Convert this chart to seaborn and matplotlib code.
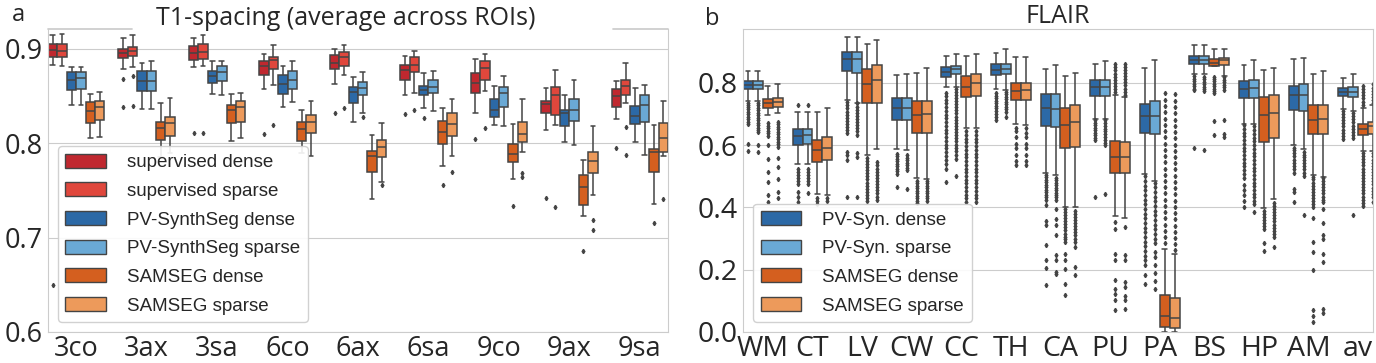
import numpy as np
import pandas as pd
import seaborn as sns
import matplotlib.pyplot as plt
from matplotlib.patches import Patch
from matplotlib.ticker import FormatStrFormatter

# ---------------- panel a: T1 spacing ----------------
t1_cats = ["3co", "3ax", "3sa", "6co", "6ax", "6sa", "9co", "9ax", "9sa"]
t1_groups = ["supervised dense", "supervised sparse", "PV-SynthSeg dense",
             "PV-SynthSeg sparse", "SAMSEG dense", "SAMSEG sparse"]
t1_colors = ["#c0282f", "#e0473c", "#2c69a6", "#6aa9d5", "#d45f1f", "#ed9a5b"]

# per category: lower whisker, Q1, median, Q3, upper whisker
sup_dense = [[0.883, 0.891, 0.899, 0.905, 0.915], [0.879, 0.890, 0.896, 0.900, 0.912],
             [0.881, 0.888, 0.896, 0.903, 0.912], [0.857, 0.872, 0.882, 0.887, 0.895],
             [0.863, 0.879, 0.885, 0.894, 0.900], [0.851, 0.867, 0.878, 0.883, 0.892],
             [0.832, 0.853, 0.864, 0.874, 0.889], [0.814, 0.832, 0.842, 0.845, 0.858],
             [0.826, 0.838, 0.850, 0.857, 0.866]]
sup_sparse = [[0.882, 0.891, 0.898, 0.905, 0.916], [0.881, 0.892, 0.898, 0.902, 0.915],
              [0.882, 0.889, 0.897, 0.905, 0.915], [0.862, 0.879, 0.888, 0.891, 0.904],
              [0.872, 0.882, 0.891, 0.897, 0.904], [0.853, 0.875, 0.883, 0.891, 0.898],
              [0.855, 0.867, 0.880, 0.887, 0.895], [0.819, 0.830, 0.851, 0.860, 0.878],
              [0.843, 0.851, 0.861, 0.867, 0.885]]
pv_dense = [[0.840, 0.856, 0.867, 0.875, 0.881], [0.836, 0.855, 0.866, 0.877, 0.885],
            [0.852, 0.864, 0.871, 0.877, 0.887], [0.838, 0.852, 0.863, 0.872, 0.882],
            [0.822, 0.843, 0.854, 0.860, 0.870], [0.837, 0.851, 0.856, 0.861, 0.874],
            [0.819, 0.828, 0.835, 0.847, 0.861], [0.801, 0.818, 0.832, 0.835, 0.851],
            [0.801, 0.820, 0.829, 0.839, 0.858]]
pv_sparse = [[0.841, 0.857, 0.869, 0.875, 0.881], [0.836, 0.855, 0.866, 0.877, 0.887],
             [0.851, 0.866, 0.876, 0.882, 0.887], [0.844, 0.857, 0.867, 0.877, 0.887],
             [0.832, 0.851, 0.859, 0.865, 0.875], [0.834, 0.853, 0.860, 0.867, 0.877],
             [0.818, 0.838, 0.853, 0.860, 0.871], [0.798, 0.824, 0.835, 0.847, 0.867],
             [0.788, 0.822, 0.841, 0.851, 0.862]]
sam_dense = [[0.806, 0.821, 0.834, 0.844, 0.852], [0.785, 0.803, 0.816, 0.823, 0.843],
             [0.802, 0.821, 0.835, 0.840, 0.852], [0.790, 0.802, 0.815, 0.822, 0.835],
             [0.741, 0.770, 0.786, 0.792, 0.809], [0.776, 0.799, 0.812, 0.824, 0.837],
             [0.762, 0.780, 0.789, 0.799, 0.820], [0.723, 0.735, 0.754, 0.766, 0.782],
             [0.736, 0.769, 0.791, 0.794, 0.819]]
sam_sparse = [[0.807, 0.825, 0.838, 0.845, 0.854], [0.790, 0.808, 0.821, 0.828, 0.848],
              [0.806, 0.823, 0.838, 0.845, 0.853], [0.786, 0.811, 0.822, 0.830, 0.845],
              [0.759, 0.785, 0.796, 0.803, 0.821], [0.786, 0.808, 0.820, 0.832, 0.847],
              [0.791, 0.801, 0.810, 0.822, 0.847], [0.745, 0.768, 0.781, 0.791, 0.818],
              [0.786, 0.791, 0.806, 0.821, 0.845]]

# outlier points per category
sup_dense_out = [[0.650], [0.868, 0.838], [0.811], [0.810], [0.832], [0.831], [0.805], [0.742], [0.795]]
sup_sparse_out = [[], [0.871, 0.839], [0.811], [0.819], [0.837], [0.835], [0.816], [0.732], [0.817, 0.788]]
pv_dense_out = [[], [], [], [], [], [0.827], [], [], []]
pv_sparse_out = [[], [], [], [], [0.828], [], [], [], []]
sam_dense_out = [[], [], [], [], [], [0.756], [0.733], [0.686], [0.716]]
sam_sparse_out = [[], [], [], [], [0.756], [0.769], [0.768, 0.764], [0.719, 0.708], [0.741]]

# ---------------- panel b: FLAIR ----------------
flair_cats = ["WM", "CT", "LV", "CW", "CC", "TH", "CA", "PU", "PA", "BS", "HP", "AM", "av"]
flair_groups = ["PV-Syn. dense", "PV-Syn. sparse", "SAMSEG dense", "SAMSEG sparse"]
flair_colors = ["#2c69a6", "#6aa9d5", "#d45f1f", "#ed9a5b"]

fl_pv_dense = [[0.741, 0.779, 0.793, 0.805, 0.838], [0.541, 0.602, 0.629, 0.651, 0.705],
               [0.745, 0.838, 0.876, 0.900, 0.948], [0.587, 0.680, 0.718, 0.750, 0.825],
               [0.787, 0.819, 0.835, 0.851, 0.886], [0.779, 0.825, 0.843, 0.862, 0.896],
               [0.512, 0.662, 0.718, 0.763, 0.844], [0.683, 0.758, 0.787, 0.809, 0.862],
               [0.509, 0.640, 0.694, 0.732, 0.848], [0.830, 0.862, 0.875, 0.887, 0.923],
               [0.668, 0.750, 0.782, 0.805, 0.859], [0.600, 0.712, 0.760, 0.790, 0.878],
               [0.717, 0.757, 0.771, 0.784, 0.817]]
fl_pv_sparse = [[0.741, 0.779, 0.793, 0.805, 0.838], [0.541, 0.605, 0.634, 0.653, 0.705],
                [0.737, 0.833, 0.876, 0.898, 0.948], [0.584, 0.680, 0.718, 0.752, 0.827],
                [0.787, 0.827, 0.846, 0.855, 0.894], [0.778, 0.828, 0.846, 0.862, 0.910],
                [0.503, 0.657, 0.715, 0.763, 0.857], [0.683, 0.758, 0.787, 0.809, 0.870],
                [0.484, 0.637, 0.694, 0.741, 0.873], [0.827, 0.862, 0.875, 0.887, 0.923],
                [0.667, 0.750, 0.785, 0.809, 0.875], [0.587, 0.709, 0.760, 0.795, 0.881],
                [0.709, 0.755, 0.771, 0.786, 0.830]]
fl_sam_dense = [[0.696, 0.718, 0.734, 0.748, 0.790], [0.442, 0.546, 0.584, 0.616, 0.705],
                [0.568, 0.734, 0.795, 0.846, 0.926], [0.493, 0.640, 0.698, 0.741, 0.832],
                [0.655, 0.755, 0.787, 0.823, 0.886], [0.667, 0.744, 0.774, 0.800, 0.883],
                [0.402, 0.591, 0.666, 0.720, 0.823], [0.373, 0.511, 0.562, 0.613, 0.760],
                [0.000, 0.016, 0.051, 0.118, 0.268], [0.820, 0.855, 0.865, 0.878, 0.908],
                [0.398, 0.610, 0.698, 0.755, 0.841], [0.503, 0.637, 0.680, 0.728, 0.830],
                [0.582, 0.634, 0.653, 0.669, 0.720]]
fl_sam_sparse = [[0.702, 0.723, 0.739, 0.752, 0.795], [0.440, 0.552, 0.591, 0.627, 0.720],
                 [0.589, 0.734, 0.809, 0.857, 0.937], [0.490, 0.640, 0.699, 0.741, 0.849],
                 [0.655, 0.758, 0.801, 0.830, 0.894], [0.664, 0.744, 0.777, 0.800, 0.883],
                 [0.402, 0.594, 0.673, 0.728, 0.833], [0.367, 0.512, 0.562, 0.610, 0.755],
                 [0.000, 0.013, 0.045, 0.109, 0.252], [0.823, 0.857, 0.873, 0.880, 0.910],
                 [0.426, 0.623, 0.702, 0.760, 0.848], [0.498, 0.637, 0.683, 0.730, 0.838],
                 [0.581, 0.637, 0.662, 0.675, 0.730]]

fl_pv_dense_out = [
    [0.736, 0.730, 0.722, 0.715, 0.708, 0.700, 0.692, 0.684, 0.676, 0.668, 0.605, 0.580],
    [0.728, 0.525, 0.515, 0.505, 0.495, 0.485, 0.475, 0.450, 0.434, 0.418],
    [0.738, 0.728, 0.718, 0.708, 0.698, 0.688, 0.678, 0.668, 0.658, 0.648, 0.638, 0.578, 0.568, 0.552, 0.434],
    [0.572, 0.564, 0.556, 0.548, 0.540, 0.532, 0.524, 0.516, 0.508, 0.466],
    [0.768, 0.758, 0.746, 0.734, 0.722, 0.710, 0.698, 0.686, 0.674, 0.662, 0.650, 0.638, 0.626,
     0.614, 0.602, 0.590, 0.578, 0.566, 0.554, 0.540, 0.525, 0.482],
    [0.766, 0.758, 0.750, 0.742, 0.734, 0.726, 0.718, 0.710, 0.700, 0.690, 0.680],
    [0.505, 0.497, 0.489, 0.481, 0.473, 0.465, 0.457, 0.449, 0.441, 0.433, 0.425, 0.409,
     0.357, 0.343, 0.278, 0.230, 0.206, 0.152],
    [0.680, 0.672, 0.664, 0.656, 0.648, 0.640, 0.632, 0.624, 0.616, 0.434],
    [0.500, 0.485, 0.470, 0.455, 0.440, 0.425, 0.410, 0.395, 0.380, 0.365, 0.350, 0.335, 0.320,
     0.305, 0.290, 0.275, 0.260, 0.245, 0.230, 0.214, 0.184, 0.155],
    [0.822, 0.814, 0.806, 0.798, 0.790, 0.782, 0.776, 0.591],
    [0.664, 0.652, 0.640, 0.628, 0.616, 0.604, 0.592, 0.580, 0.568, 0.556, 0.544, 0.532, 0.520,
     0.508, 0.495, 0.471, 0.455, 0.440, 0.420, 0.402],
    [0.592, 0.584, 0.574, 0.564, 0.554, 0.544, 0.534, 0.522, 0.510, 0.458, 0.450, 0.418],
    [0.710, 0.700, 0.690, 0.680, 0.670, 0.660, 0.650, 0.640, 0.630, 0.621]]
fl_pv_sparse_out = [
    [0.736, 0.728, 0.720, 0.712, 0.704, 0.696, 0.688, 0.680, 0.672, 0.664, 0.656, 0.648, 0.642, 0.600, 0.578],
    [0.728, 0.525, 0.515, 0.505, 0.495, 0.485, 0.475, 0.445],
    [0.734, 0.724, 0.714, 0.704, 0.694, 0.684, 0.674, 0.664, 0.654, 0.644, 0.634, 0.574, 0.562, 0.434],
    [0.568, 0.560, 0.552, 0.544, 0.536, 0.528, 0.520, 0.458],
    [0.782, 0.772, 0.762, 0.752, 0.742, 0.732, 0.722, 0.712, 0.702, 0.692, 0.682, 0.672, 0.662,
     0.652, 0.642, 0.632, 0.622, 0.612, 0.602, 0.592, 0.582, 0.570, 0.555, 0.500],
    [0.772, 0.764, 0.756, 0.748, 0.740, 0.732, 0.724, 0.716, 0.708, 0.690],
    [0.495, 0.488, 0.480, 0.472, 0.464, 0.456, 0.448, 0.440, 0.432, 0.424, 0.395, 0.362, 0.343,
     0.313, 0.246, 0.230, 0.192, 0.187],
    [0.680, 0.671, 0.662, 0.653, 0.644, 0.635, 0.626, 0.617, 0.608, 0.599, 0.444],
    [0.478, 0.465, 0.450, 0.435, 0.420, 0.405, 0.390, 0.375, 0.360, 0.345, 0.330, 0.315, 0.300,
     0.285, 0.257, 0.240, 0.215, 0.190, 0.165, 0.139],
    [0.820, 0.812, 0.804, 0.796, 0.788, 0.780, 0.774, 0.584],
    [0.660, 0.648, 0.636, 0.624, 0.612, 0.600, 0.588, 0.576, 0.564, 0.552, 0.540, 0.528, 0.516,
     0.504, 0.492, 0.480, 0.468, 0.456, 0.444, 0.432, 0.420, 0.410, 0.386],
    [0.578, 0.570, 0.562, 0.552, 0.542, 0.532, 0.522, 0.512, 0.500, 0.377],
    [0.703, 0.693, 0.683, 0.673, 0.663, 0.653, 0.643, 0.633, 0.622, 0.375]]
fl_sam_dense_out = [
    [0.670, 0.662, 0.654, 0.646, 0.638, 0.630, 0.600, 0.557, 0.514, 0.482, 0.439, 0.418],
    [0.430, 0.420, 0.410],
    [0.560, 0.550, 0.540, 0.530, 0.520, 0.510, 0.500, 0.490, 0.480, 0.470, 0.460, 0.450, 0.440, 0.430, 0.420],
    [0.486, 0.478, 0.470, 0.462, 0.454, 0.446, 0.438, 0.430, 0.422, 0.414],
    [0.645, 0.633, 0.621, 0.609, 0.597, 0.585, 0.573, 0.561, 0.549, 0.537, 0.525, 0.513, 0.501,
     0.489, 0.477, 0.465, 0.453, 0.441, 0.429, 0.418],
    [0.655, 0.645, 0.625, 0.605, 0.590, 0.570, 0.550, 0.535],
    [0.395, 0.386, 0.376, 0.366, 0.356, 0.346, 0.336, 0.326, 0.316, 0.306, 0.298, 0.289, 0.252,
     0.230, 0.201, 0.155, 0.120],
    [0.860, 0.850, 0.840, 0.830, 0.820, 0.810, 0.800, 0.790, 0.780, 0.770, 0.353, 0.330, 0.252,
     0.230, 0.168, 0.139, 0.123, 0.102, 0.070],
    [0.766, 0.745, 0.725, 0.705, 0.685, 0.665, 0.645, 0.625, 0.605, 0.585, 0.565, 0.545, 0.525,
     0.505, 0.485, 0.465, 0.445, 0.425, 0.405, 0.385, 0.365, 0.345, 0.325, 0.305, 0.285],
    [0.814, 0.806, 0.798, 0.790, 0.782, 0.774, 0.766, 0.677, 0.632],
    [0.390, 0.380, 0.370, 0.360, 0.350, 0.340, 0.330, 0.287, 0.259],
    [0.498, 0.490, 0.480, 0.470, 0.460, 0.450, 0.440, 0.430, 0.420, 0.410, 0.402, 0.366, 0.289,
     0.257, 0.198, 0.070, 0.050, 0.032],
    [0.790, 0.780, 0.770, 0.760, 0.750, 0.740, 0.730, 0.575, 0.565, 0.555, 0.545, 0.535, 0.525,
     0.515, 0.505, 0.495, 0.485, 0.475, 0.465, 0.455, 0.445, 0.435, 0.425, 0.415, 0.405]]
fl_sam_sparse_out = [
    [0.675, 0.667, 0.659, 0.651, 0.643, 0.635, 0.627, 0.619, 0.611, 0.603, 0.595, 0.560, 0.530,
     0.490, 0.450, 0.430],
    [0.430, 0.420],
    [0.545, 0.535, 0.525, 0.515, 0.505, 0.495, 0.485, 0.475, 0.465, 0.455, 0.445, 0.435, 0.425],
    [0.485, 0.477, 0.469, 0.461, 0.453, 0.445, 0.437, 0.429, 0.421],
    [0.645, 0.633, 0.621, 0.609, 0.597, 0.585, 0.573, 0.561, 0.549, 0.537, 0.525, 0.513, 0.501,
     0.489, 0.477, 0.465, 0.453, 0.441, 0.429, 0.418],
    [0.655, 0.640, 0.625, 0.605, 0.590, 0.570, 0.550, 0.535],
    [0.390, 0.380, 0.370, 0.360, 0.350, 0.340, 0.330, 0.320, 0.310, 0.300, 0.290, 0.273, 0.209, 0.184],
    [0.862, 0.852, 0.842, 0.832, 0.822, 0.812, 0.802, 0.792, 0.782, 0.772, 0.762, 0.337, 0.246,
     0.230, 0.160, 0.145, 0.116, 0.102, 0.075],
    [0.763, 0.742, 0.722, 0.702, 0.682, 0.662, 0.642, 0.622, 0.602, 0.582, 0.562, 0.542, 0.522,
     0.502, 0.482, 0.462, 0.442, 0.422, 0.402, 0.382, 0.362, 0.342, 0.322, 0.302, 0.282, 0.262],
    [0.818, 0.810, 0.802, 0.794, 0.786, 0.778, 0.682, 0.637, 0.627],
    [0.415, 0.405, 0.395, 0.385, 0.375, 0.365, 0.355, 0.345, 0.335, 0.325, 0.315, 0.305, 0.273],
    [0.495, 0.485, 0.475, 0.465, 0.455, 0.445, 0.435, 0.425, 0.418, 0.395, 0.350, 0.310, 0.300,
     0.250, 0.225, 0.073, 0.062],
    [0.795, 0.785, 0.775, 0.765, 0.755, 0.745, 0.735, 0.574, 0.564, 0.554, 0.544, 0.534, 0.524,
     0.514, 0.504, 0.494, 0.484, 0.474, 0.464, 0.454, 0.444, 0.434, 0.418]]


def box_sample(stats, outliers):
    # sample whose quartiles / whiskers reproduce the read-off box exactly
    lo, q1, med, q3, hi = stats
    n = 4 * (len(outliers) + 2)
    return [lo] + [q1] * n + [med] * n + [q3] * n + [hi] + list(outliers)


def long_table(cats, groups, stats, outs):
    rows = []
    for g, st, ou in zip(groups, stats, outs):
        for c, s, o in zip(cats, st, ou):
            for v in box_sample(s, o):
                rows.append((c, g, v))
    return pd.DataFrame(rows, columns=["roi", "method", "dice"])


df_a = long_table(t1_cats, t1_groups,
                  [sup_dense, sup_sparse, pv_dense, pv_sparse, sam_dense, sam_sparse],
                  [sup_dense_out, sup_sparse_out, pv_dense_out, pv_sparse_out,
                   sam_dense_out, sam_sparse_out])
df_b = long_table(flair_cats, flair_groups,
                  [fl_pv_dense, fl_pv_sparse, fl_sam_dense, fl_sam_sparse],
                  [fl_pv_dense_out, fl_pv_sparse_out, fl_sam_dense_out, fl_sam_sparse_out])

sns.set_style("whitegrid")
plt.rcParams["font.family"] = ["Open Sans", "DejaVu Sans"]

fig = plt.figure(figsize=(13.76, 3.63), dpi=100)
ax_a = fig.add_axes([0.0349, 0.0854, 0.4506, 0.8346])
ax_b = fig.add_axes([0.540, 0.0854, 0.4578, 0.8346])

line_c = "#444444"
box_kw = dict(x="roi", y="dice", hue="method", saturation=1, width=0.8, linewidth=1.1,
              linecolor=line_c, fliersize=2.2, legend=False,
              flierprops=dict(marker="d", markerfacecolor=line_c, markeredgecolor=line_c))

sns.boxplot(data=df_a, order=t1_cats, hue_order=t1_groups, palette=t1_colors, ax=ax_a, **box_kw)
sns.boxplot(data=df_b, order=flair_cats, hue_order=flair_groups, palette=flair_colors, ax=ax_b, **box_kw)

for ax, fs in ((ax_a, 19.5), (ax_b, 20.5)):
    ax.set_xlabel("")
    ax.set_ylabel("")
    ax.tick_params(axis="both", labelsize=fs, length=0)
    ax.tick_params(axis="x", pad=2)
    ax.tick_params(axis="y", pad=4)
    ax.yaxis.set_major_formatter(FormatStrFormatter("%.1f"))
    ax.xaxis.grid(False)

ax_a.set_ylim(0.6, 0.921)
ax_a.set_yticks([0.6, 0.7, 0.8, 0.9])
ax_a.set_xlim(-0.4, 8.4)
ax_b.set_ylim(0.0, 0.973)
ax_b.set_yticks([0.0, 0.2, 0.4, 0.6, 0.8])
ax_b.set_xlim(-0.4, 12.3)

# title of panel a sits over a gap in the top frame
ax_a.spines["top"].set_visible(False)
for x0, x1 in [(0.0, 0.135), (0.911, 1.0)]:
    ax_a.plot([x0, x1], [1, 1], transform=ax_a.transAxes, color=".8", lw=1.25, clip_on=False)
ax_a.text(0.48, 1.013, "T1-spacing (average across ROIs)", transform=ax_a.transAxes,
          ha="center", va="baseline", fontsize=18)
ax_b.set_title("FLAIR", fontsize=18, pad=4)

fig.text(0.0087, 0.943, "a", fontsize=17, va="baseline")
fig.text(0.5124, 0.931, "b", fontsize=17, va="baseline")

leg_kw = dict(loc="lower left", bbox_to_anchor=(0.016, 0.033), borderaxespad=0,
              handlelength=2.15, handleheight=0.75, labelspacing=0.6, borderpad=0.4,
              handletextpad=1.15, frameon=True, fancybox=True,
              framealpha=0.9, edgecolor="#cccccc",
              prop={"family": ["Liberation Sans", "DejaVu Sans"], "size": 13.5})
ax_a.legend(handles=[Patch(facecolor=c, edgecolor=line_c, label=g) for g, c in zip(t1_groups, t1_colors)],
            **leg_kw)
ax_b.legend(handles=[Patch(facecolor=c, edgecolor=line_c, label=g) for g, c in zip(flair_groups, flair_colors)],
            **leg_kw)

fig.savefig("out.png", dpi=100)
plt.close(fig)
